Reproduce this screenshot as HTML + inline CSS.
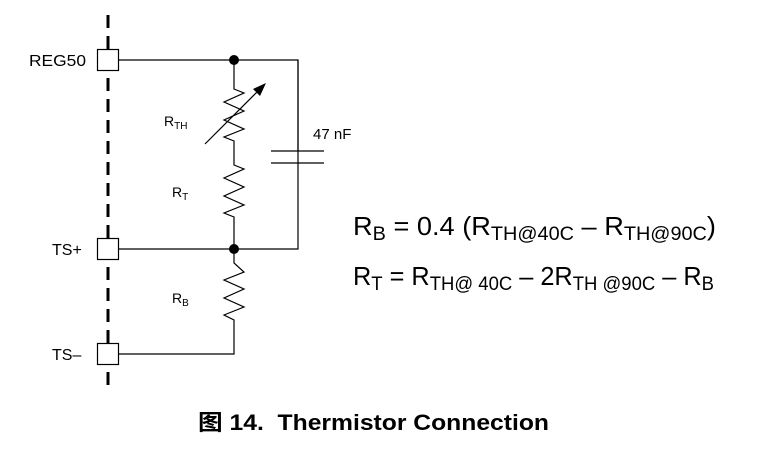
<!DOCTYPE html>
<html><head><style>
body{margin:0;background:#fff;}
svg text{font-family:"Liberation Sans","Noto Sans CJK SC",sans-serif;fill:#000;}
</style></head><body>
<svg width="761" height="459" viewBox="0 0 761 459" xmlns="http://www.w3.org/2000/svg">
<g stroke="#000" fill="none">
<line x1="108" y1="15" x2="108" y2="388" stroke-width="3" stroke-dasharray="13,8"/>
<g stroke-width="1.2">
<polyline points="118,60 298,60 298,249 118,249"/>
<polyline points="234,60 234,89 244,93 224,102 244,111 224,120 244,129 224,137 234,141 234,165 244,169 224,178 244,187 224,196 244,205 224,213 234,217 234,263 244,272 224,280 244,289 224,298 244,307 224,315 234,320 234,354 118,354"/>
<line x1="298" y1="60" x2="298" y2="151"/>
<line x1="271" y1="151" x2="324" y2="151"/>
<line x1="271" y1="163" x2="324" y2="163"/>
<line x1="205" y1="144" x2="258" y2="91"/>
</g>
<g stroke-width="1.2" fill="#fff">
<rect x="97.5" y="49.5" width="21" height="21"/>
<rect x="97.5" y="238.5" width="21" height="21"/>
<rect x="97.5" y="343.5" width="21" height="21"/>
</g>
</g>
<polygon points="266,83 253,89 260,96" fill="#000"/>
<circle cx="234" cy="60" r="5" fill="#000"/>
<circle cx="234" cy="249" r="5" fill="#000"/>
<g font-size="16">
<text x="29" y="66" textLength="57" lengthAdjust="spacingAndGlyphs">REG50</text>
<text x="52" y="255">TS+</text>
<text x="52" y="360">TS–</text>
<text x="313" y="139" font-size="15">47 nF</text>
</g>
<g font-size="14">
<text x="164" y="126">R<tspan font-size="10" dy="3">TH</tspan></text>
<text x="172" y="197">R<tspan font-size="10" dy="3">T</tspan></text>
<text x="172" y="303">R<tspan font-size="10" dy="3">B</tspan></text>
</g>
<g font-size="26">
<text x="353" y="235" textLength="363" lengthAdjust="spacingAndGlyphs">R<tspan font-size="19" dy="5">B</tspan><tspan dy="-5"> = 0.4 (R</tspan><tspan font-size="19" dy="5">TH@40C</tspan><tspan dy="-5"> – R</tspan><tspan font-size="19" dy="5">TH@90C</tspan><tspan dy="-5">)</tspan></text>
<text x="353" y="285" textLength="361" lengthAdjust="spacingAndGlyphs">R<tspan font-size="19" dy="5">T</tspan><tspan dy="-5"> = R</tspan><tspan font-size="19" dy="5">TH@ 40C</tspan><tspan dy="-5"> – 2R</tspan><tspan font-size="19" dy="5">TH @90C</tspan><tspan dy="-5"> – R</tspan><tspan font-size="19" dy="5">B</tspan></text>
</g>
<text x="198" y="430" font-size="22" font-weight="bold" xml:space="preserve" textLength="351" lengthAdjust="spacingAndGlyphs">图 14.  Thermistor Connection</text>
</svg>
</body></html>
